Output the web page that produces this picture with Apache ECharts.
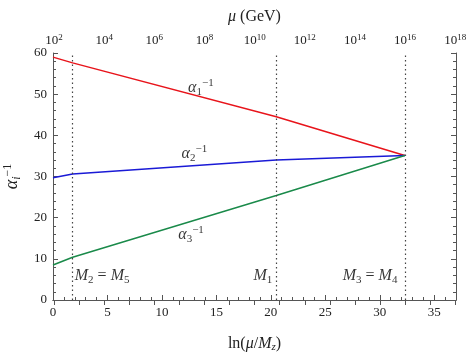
<!DOCTYPE html>
<html>
<head>
<meta charset="utf-8">
<script src="https://cdn.jsdelivr.net/npm/echarts@6/dist/echarts.min.js"></script>
<style>
  html, body { margin: 0; padding: 0; background: #fff; }
  #chart { width: 474px; height: 353px; }
</style>
</head>
<body>
<div id="chart"></div>
<script>
// x = ln(mu/Mz)
var alpha1 = [[0, 59.0], [1.8, 57.6], [20.5, 44.5], [32.3, 35.1]];
var alpha2 = [[0, 29.7], [1.8, 30.6], [20.5, 34.0], [32.3, 35.1]];
var alpha3 = [[0, 8.5], [1.8, 10.4], [20.5, 25.4], [32.3, 35.1]];
var thresholds = [1.8, 20.5, 32.3];
// top axis: log10(mu / GeV)
var topTicks = [2, 4, 6, 8, 10, 12, 14, 16, 18];
var topMinor = [3, 5, 7, 9, 11, 13, 15, 17];
var log10Mz = Math.log10(91.19);
// annotations [x, y, text]
var lineLabels = [
  [12.4, 51.5, '{a|α}{sub|1}{sup|−1}'],
  [11.8, 35.6, '{a|α}{sub|2}{sup|−1}'],
  [11.5, 15.8, '{a|α}{sub|3}{sup|−1}']
];
var massLabels = [
  [2.0, 6.0, '{m|M}{sub|2}{t| = }{m|M}{sub|5}'],
  [18.4, 6.0, '{m|M}{sub|1}'],
  [26.6, 6.0, '{m|M}{sub|3}{t| = }{m|M}{sub|4}']
];

var serif = 'Liberation Serif';
var richBase = {
  a: { fontFamily: serif, fontStyle: 'italic', fontSize: 16, color: '#000' },
  m: { fontFamily: serif, fontStyle: 'italic', fontSize: 16, color: '#000' },
  t: { fontFamily: serif, fontSize: 16, color: '#000' },
  sub: { fontFamily: serif, fontSize: 11, color: '#000', padding: [9, 0, 0, 0] },
  sup: { fontFamily: serif, fontSize: 11, color: '#000', padding: [0, 0, 9, 0] }
};

var chart = echarts.init(document.getElementById('chart'));

function lineSeries(data, color) {
  return {
    type: 'line',
    data: data,
    symbol: 'none',
    lineStyle: { color: color, width: 1.5 },
    z: 3
  };
}

function textSeries(items) {
  return {
    type: 'scatter',
    symbolSize: 0,
    data: items.map(function (d) { return [d[0], d[1], d[2]]; }),
    label: {
      show: true,
      position: 'right',
      distance: 0,
      formatter: function (p) { return p.value[2]; },
      rich: richBase
    },
    silent: true,
    z: 4
  };
}

var axisLineStyle = { lineStyle: { color: '#555', width: 1 } };

chart.setOption({
  animation: false,
  backgroundColor: '#fff',
  grid: { left: 53, right: 18, top: 53, bottom: 53, outerBoundsMode: 'none', containLabel: false },
  xAxis: [
    {
      type: 'value',
      position: 'bottom',
      min: 0,
      max: 37,
      interval: 5,
      axisLine: axisLineStyle,
      axisTick: { inside: true, length: 5, lineStyle: { color: '#555' } },
      minorTick: { show: true, splitNumber: 5, length: 3, lineStyle: { color: '#555' } },
      splitLine: { show: false },
      axisLabel: {
        fontFamily: serif, fontSize: 13, color: '#222', margin: 6,
        showMaxLabel: false
      },
      name: '{t|ln(}{i|μ}{t|/}{i|M}{s|z}{t|)}',
      nameLocation: 'middle',
      nameGap: 34,
      nameTextStyle: {
        rich: {
          t: { fontFamily: serif, fontSize: 16, color: '#222' },
          i: { fontFamily: serif, fontSize: 16, fontStyle: 'italic', color: '#222' },
          s: { fontFamily: serif, fontSize: 11, fontStyle: 'italic', color: '#222', padding: [8, 0, 0, 0] }
        }
      }
    },
    {
      type: 'value',
      position: 'top',
      min: log10Mz,
      max: log10Mz + 37 / Math.LN10,
      axisLine: axisLineStyle,
      axisTick: {
        inside: true, length: 5, lineStyle: { color: '#555' },
        customValues: topTicks.concat(topMinor)
      },
      splitLine: { show: false },
      axisLabel: {
        customValues: topTicks,
        margin: 4,
        formatter: function (v) { return '{b|10}{e|' + Math.round(v) + '}'; },
        rich: {
          b: { fontFamily: serif, fontSize: 13, color: '#222' },
          e: { fontFamily: serif, fontSize: 9, color: '#222', padding: [0, 0, 7, 0] }
        }
      },
      name: '{i|μ}{t| (GeV)}',
      nameLocation: 'middle',
      nameGap: 28,
      nameTextStyle: {
        rich: {
          t: { fontFamily: serif, fontSize: 16, color: '#222' },
          i: { fontFamily: serif, fontSize: 16, fontStyle: 'italic', color: '#222' }
        }
      }
    }
  ],
  yAxis: [
    {
      type: 'value',
      position: 'left',
      min: 0,
      max: 60,
      interval: 10,
      axisLine: axisLineStyle,
      axisTick: { inside: true, length: 5, lineStyle: { color: '#555' } },
      minorTick: { show: true, splitNumber: 5, length: 3, lineStyle: { color: '#555' } },
      splitLine: { show: false },
      axisLabel: { fontFamily: serif, fontSize: 13, color: '#222', margin: 6 },
      name: '{a|α}{sub|i}{sup|−1}',
      nameLocation: 'middle',
      nameRotate: 90,
      nameGap: 27,
      nameTextStyle: {
        rich: {
          a: { fontFamily: serif, fontSize: 18, fontStyle: 'italic', color: '#222' },
          sub: { fontFamily: serif, fontSize: 12, fontStyle: 'italic', color: '#222', padding: [9, 0, 0, 0] },
          sup: { fontFamily: serif, fontSize: 12, color: '#222', padding: [0, 0, 9, 0] }
        }
      }
    },
    {
      type: 'value',
      position: 'right',
      min: 0,
      max: 60,
      interval: 10,
      axisLine: axisLineStyle,
      axisTick: { inside: true, length: 5, lineStyle: { color: '#555' } },
      minorTick: { show: true, splitNumber: 5, length: 3, lineStyle: { color: '#555' } },
      splitLine: { show: false },
      axisLabel: { show: false }
    }
  ],
  series: [
    Object.assign(lineSeries(alpha1, '#e8141b'), {
      markLine: {
        silent: true,
        symbol: 'none',
        label: { show: false },
        lineStyle: { color: '#444', type: [1.5, 3], width: 1.2 },
        data: thresholds.map(function (t) { return { xAxis: t }; })
      }
    }),
    lineSeries(alpha2, '#1a1ad6'),
    lineSeries(alpha3, '#1a8a4a'),
    textSeries(lineLabels),
    textSeries(massLabels)
  ]
});
</script>
</body>
</html>
